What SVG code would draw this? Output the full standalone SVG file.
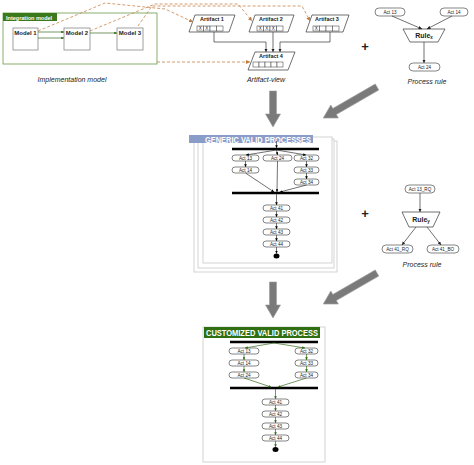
<svg xmlns="http://www.w3.org/2000/svg" width="474" height="465" viewBox="0 0 474 465">
<defs>
<style>
text{font-family:"Liberation Sans",Arial,sans-serif;fill:#222}
.mdl{fill:#fff;stroke:#888;stroke-width:0.8}
.mt{font-size:6px;font-weight:bold;text-anchor:middle}
.it{font-size:7px;font-style:italic;text-anchor:middle}
.dash{fill:none;stroke:#c8844a;stroke-width:0.8;stroke-dasharray:3,2}
.ln{fill:none;stroke:#333;stroke-width:0.7}
.gln{fill:none;stroke:#3a6b20;stroke-width:0.7}
.art{fill:#fff;stroke:#333;stroke-width:0.7}
.cell{fill:#fff;stroke:#333;stroke-width:0.5}
.at{font-size:5.5px;font-weight:bold;text-anchor:middle}
.x{font-size:4.5px;text-anchor:middle}
.act{fill:#fff;stroke:#333;stroke-width:0.6}
.ac{font-size:4.6px;text-anchor:middle}
.bar{stroke:#000;stroke-width:2.6}
.page{fill:#fff;stroke:#c8c8c8;stroke-width:0.8}
.big{fill:#7a7a7a;stroke:#9a9a9a;stroke-width:0.6}
.plus{font-size:13px;font-weight:bold;text-anchor:middle}
.hd{font-size:8.5px;font-weight:bold;fill:#fff;text-anchor:start}
</style>
<marker id="ah" viewBox="0 0 6 6" refX="6" refY="3" markerWidth="5" markerHeight="5" orient="auto"><path d="M0,0 L6,3 L0,6 z" fill="#222"/></marker>
<marker id="ahs" viewBox="0 0 6 6" refX="6" refY="3" markerWidth="4" markerHeight="4" orient="auto"><path d="M0,0 L6,3 L0,6 z" fill="#000"/></marker>
<marker id="ahg" viewBox="0 0 6 6" refX="6" refY="3" markerWidth="4" markerHeight="4" orient="auto"><path d="M0,0 L6,3 L0,6 z" fill="#2f6a14"/></marker>
<marker id="aho" viewBox="0 0 6 6" refX="6" refY="3" markerWidth="5" markerHeight="5" orient="auto"><path d="M0,0 L6,3 L0,6 z" fill="#c07a40"/></marker>
</defs>

<!-- Implementation model -->
<g id="integration-model">
<rect x="3" y="13" width="154" height="51" fill="#fff" stroke="#6a9a4a" stroke-width="0.8"/>
<rect x="3" y="13" width="54" height="8" fill="#3a7a1c"/>
<text x="6" y="19.5" style="font-size:5.5px;font-weight:bold;fill:#fff">Integration model</text>
</g>
<g id="model1"><rect class="mdl" x="13" y="28" width="25" height="22"/><text class="mt" x="25.5" y="35">Model 1</text></g>
<g id="model2"><rect class="mdl" x="64" y="28" width="26" height="22"/><text class="mt" x="77" y="35">Model 2</text></g>
<g id="model3"><rect class="mdl" x="117" y="28" width="26" height="22"/><text class="mt" x="130" y="35">Model 3</text></g>
<text class="it" x="72" y="82">Implementation model</text>

<!-- Artifacts -->
<g id="artifact1">
<polygon class="art" points="195,15 235,15 229,32 189,32"/>
<text class="at" x="212" y="21">Artifact 1</text>
<rect class="cell" x="197" y="26" width="6.5" height="5"/><rect class="cell" x="203.5" y="26" width="6.5" height="5"/><rect class="cell" x="210" y="26" width="6.5" height="5"/><rect class="cell" x="216.5" y="26" width="6.5" height="5"/>
<text class="x" x="200.2" y="30.2">X</text><text class="x" x="206.7" y="30.2">X</text>
</g>
<g id="artifact2">
<polygon class="art" points="255,15 294,15 288,32 249,32"/>
<text class="at" x="271" y="21">Artifact 2</text>
<rect class="cell" x="257" y="26" width="6.5" height="5"/><rect class="cell" x="263.5" y="26" width="6.5" height="5"/><rect class="cell" x="270" y="26" width="6.5" height="5"/><rect class="cell" x="276.5" y="26" width="6.5" height="5"/>
<text class="x" x="260.2" y="30.2">X</text><text class="x" x="266.7" y="30.2">X</text><text class="x" x="273.2" y="30.2">X</text>
</g>
<g id="artifact3">
<polygon class="art" points="312,15 349,15 343,32 306,32"/>
<text class="at" x="327" y="21">Artifact 3</text>
<rect class="cell" x="313" y="26" width="6.5" height="5"/><rect class="cell" x="319.5" y="26" width="6.5" height="5"/><rect class="cell" x="326" y="26" width="6.5" height="5"/><rect class="cell" x="332.5" y="26" width="6.5" height="5"/>
<text class="x" x="316.2" y="30.2">X</text>
</g>
<g id="artifact4">
<polygon class="art" points="255,52 295,52 288,70 248,70"/>
<text class="at" x="271" y="58">Artifact 4</text>
<rect class="cell" x="253" y="62" width="6" height="5"/><rect class="cell" x="259" y="62" width="6" height="5"/><rect class="cell" x="265" y="62" width="6" height="5"/><rect class="cell" x="271" y="62" width="6" height="5"/><rect class="cell" x="277" y="62" width="6" height="5"/>
</g>
<text class="it" x="266" y="82">Artifact-view</text>

<!-- Process rule x -->
<g id="act13-rule"><rect class="act" x="375" y="8" width="30" height="8" rx="4"/><text class="ac" x="390" y="13.8">Act 13</text></g>
<g id="act14-rule"><rect class="act" x="440" y="8" width="28" height="8" rx="4"/><text class="ac" x="454" y="13.8">Act 14</text></g>
<g id="rule-x"><polygon class="art" points="403,29 445,29 438,42 410,42"/><text x="424" y="38" style="font-size:7px;font-weight:bold;text-anchor:middle">Rule<tspan style="font-size:4.5px" dy="1">x</tspan></text></g>
<g id="act24-rule"><rect class="act" x="409" y="63" width="31" height="8" rx="4"/><text class="ac" x="424.5" y="68.8">Act 24</text></g>
<text class="it" x="427" y="84">Process rule</text>
<text class="plus" x="365" y="51">+</text>

<!-- Generic valid processes -->
<g id="generic-valid-processes">
<rect class="page" x="194" y="141" width="143" height="131"/>
<rect class="page" x="198" y="139" width="136" height="129"/>
<rect class="page" x="203" y="137" width="129" height="126"/>
<rect x="189" y="135" width="124" height="8" fill="#8a9cc8"/>
<text class="hd" x="205" y="142.5" textLength="106" lengthAdjust="spacingAndGlyphs">GENERIC VALID PROCESSES</text>
</g>
<g id="g-act13"><rect class="act" x="232" y="155" width="27" height="6" rx="3"/><text class="ac" x="245.5" y="159.6">Act 13</text></g>
<g id="g-act24"><rect class="act" x="263" y="155" width="29" height="6" rx="3"/><text class="ac" x="277.5" y="159.6">Act 24</text></g>
<g id="g-act32"><rect class="act" x="294" y="155" width="25" height="6" rx="3"/><text class="ac" x="306.5" y="159.6">Act 32</text></g>
<g id="g-act14"><rect class="act" x="232" y="167" width="27" height="6" rx="3"/><text class="ac" x="245.5" y="171.6">Act 14</text></g>
<g id="g-act33"><rect class="act" x="294" y="167" width="25" height="6" rx="3"/><text class="ac" x="306.5" y="171.6">Act 33</text></g>
<g id="g-act34"><rect class="act" x="294" y="179" width="25" height="6" rx="3"/><text class="ac" x="306.5" y="183.6">Act 34</text></g>
<g id="g-act41"><rect class="act" x="263" y="205" width="27" height="6" rx="3"/><text class="ac" x="276.5" y="209.6">Act 41</text></g>
<g id="g-act42"><rect class="act" x="263" y="217" width="27" height="6" rx="3"/><text class="ac" x="276.5" y="221.6">Act 42</text></g>
<g id="g-act43"><rect class="act" x="263" y="229" width="27" height="6" rx="3"/><text class="ac" x="276.5" y="233.6">Act 43</text></g>
<g id="g-act44"><rect class="act" x="263" y="241" width="27" height="6" rx="3"/><text class="ac" x="276.5" y="245.6">Act 44</text></g>
<g id="g-end"><ellipse cx="276.5" cy="256" rx="3" ry="2.5" fill="#000"/></g>
<g id="g-bars"><line class="bar" x1="232" y1="149" x2="319" y2="149"/><line class="bar" x1="232" y1="193" x2="319" y2="193"/></g>

<!-- Process rule y -->
<g id="act13rq"><rect class="act" x="405" y="185" width="30" height="8" rx="4"/><text class="ac" x="420" y="190.8">Act 13_RQ</text></g>
<g id="rule-y"><polygon class="art" points="402,212 440,212 433,227 409,227"/><text x="421" y="222" style="font-size:7px;font-weight:bold;text-anchor:middle">Rule<tspan style="font-size:4.5px" dy="1">y</tspan></text></g>
<g id="act41rq"><rect class="act" x="382" y="245" width="31" height="8" rx="4"/><text class="ac" x="397.5" y="250.8">Act 41_RQ</text></g>
<g id="act41bo"><rect class="act" x="427" y="245" width="32" height="8" rx="4"/><text class="ac" x="443" y="250.8">Act 41_BO</text></g>
<text class="it" x="422" y="267">Process rule</text>
<text class="plus" x="365" y="218">+</text>

<!-- Customized valid process -->
<g id="customized-valid-process">
<rect class="page" x="203" y="327" width="122" height="135"/>
<rect x="204" y="327" width="116" height="11" fill="#2f6e12"/>
<text class="hd" x="206" y="335.8" textLength="112" lengthAdjust="spacingAndGlyphs">CUSTOMIZED VALID PROCESS</text>
</g>
<g id="c-act13"><rect class="act" x="229" y="348" width="30" height="6" rx="3"/><text class="ac" x="244" y="352.6">Act 13</text></g>
<g id="c-act14"><rect class="act" x="229" y="360" width="30" height="6" rx="3"/><text class="ac" x="244" y="364.6">Act 14</text></g>
<g id="c-act24"><rect class="act" x="229" y="372" width="30" height="6" rx="3"/><text class="ac" x="244" y="376.6">Act 24</text></g>
<g id="c-act32"><rect class="act" x="295" y="348" width="23" height="6" rx="3"/><text class="ac" x="306.5" y="352.6">Act 32</text></g>
<g id="c-act33"><rect class="act" x="295" y="360" width="23" height="6" rx="3"/><text class="ac" x="306.5" y="364.6">Act 33</text></g>
<g id="c-act34"><rect class="act" x="295" y="372" width="23" height="6" rx="3"/><text class="ac" x="306.5" y="376.6">Act 34</text></g>
<g id="c-act41"><rect class="act" x="262" y="399" width="27" height="6" rx="3"/><text class="ac" x="275.5" y="403.6">Act 41</text></g>
<g id="c-act42"><rect class="act" x="262" y="411" width="27" height="6" rx="3"/><text class="ac" x="275.5" y="415.6">Act 42</text></g>
<g id="c-act43"><rect class="act" x="262" y="423" width="27" height="6" rx="3"/><text class="ac" x="275.5" y="427.6">Act 43</text></g>
<g id="c-act44"><rect class="act" x="262" y="435" width="27" height="6" rx="3"/><text class="ac" x="275.5" y="439.6">Act 44</text></g>
<g id="c-end"><ellipse cx="275.5" cy="449.5" rx="3" ry="2.5" fill="#000"/></g>
<g id="c-bars"><line class="bar" x1="230" y1="342" x2="318" y2="342"/><line class="bar" x1="230" y1="388" x2="318" y2="388"/></g>

<!-- Connectors -->
<g id="connectors">
<line class="gln" x1="38" y1="32" x2="64" y2="32" marker-end="url(#ahg)"/>
<line class="gln" x1="38" y1="38" x2="64" y2="38" marker-end="url(#ahg)"/>
<line class="gln" x1="90" y1="33" x2="117" y2="33" marker-end="url(#ahg)"/>
<polyline class="dash" points="38,31 105,3 165,9 193,22" marker-end="url(#aho)"/>
<polyline class="dash" points="90,31 155,4 238,4 252,21" marker-end="url(#aho)"/>
<polyline class="dash" points="138,26 152,6 302,6 310,21" marker-end="url(#aho)"/>
<polyline class="dash" points="157,62 250,62" marker-end="url(#aho)"/>
<polyline class="ln" points="214,32 214,42 266,42 266,52" marker-end="url(#ah)"/>
<line class="ln" x1="273" y1="32" x2="273" y2="52" marker-end="url(#ah)"/>
<polyline class="ln" points="330,32 330,42 280,42 280,52" marker-end="url(#ah)"/>
<line class="ln" x1="392" y1="16" x2="422" y2="29" marker-end="url(#ah)"/>
<line class="ln" x1="452" y1="16" x2="427" y2="29" marker-end="url(#ah)"/>
<line class="ln" x1="424" y1="42" x2="424" y2="63" marker-end="url(#ah)"/>
<line class="ln" x1="420" y1="193" x2="420" y2="212" marker-end="url(#ah)"/>
<line class="ln" x1="416" y1="227" x2="402" y2="245" marker-end="url(#ah)"/>
<line class="ln" x1="427" y1="227" x2="441" y2="245" marker-end="url(#ah)"/>
<!-- generic -->
<line class="ln" x1="276.5" y1="141" x2="276.5" y2="148" marker-end="url(#ahs)"/>
<line class="ln" x1="276.5" y1="150" x2="246" y2="155" marker-end="url(#ahs)"/>
<line class="ln" x1="276.5" y1="150" x2="277.5" y2="155" marker-end="url(#ahs)"/>
<line class="ln" x1="276.5" y1="150" x2="306" y2="155" marker-end="url(#ahs)"/>
<line class="ln" x1="245.5" y1="161" x2="245.5" y2="167" marker-end="url(#ahs)"/>
<line class="ln" x1="306.5" y1="161" x2="306.5" y2="167" marker-end="url(#ahs)"/>
<line class="ln" x1="306.5" y1="173" x2="306.5" y2="179" marker-end="url(#ahs)"/>
<line class="ln" x1="245.5" y1="173" x2="274" y2="192" marker-end="url(#ahs)"/>
<line class="ln" x1="277.5" y1="161" x2="277" y2="192" marker-end="url(#ahs)"/>
<line class="ln" x1="306.5" y1="185" x2="280" y2="192" marker-end="url(#ahs)"/>
<line class="ln" x1="276.5" y1="194" x2="276.5" y2="205" marker-end="url(#ahs)"/>
<line class="ln" x1="276.5" y1="211" x2="276.5" y2="217" marker-end="url(#ahs)"/>
<line class="ln" x1="276.5" y1="223" x2="276.5" y2="229" marker-end="url(#ahs)"/>
<line class="ln" x1="276.5" y1="235" x2="276.5" y2="241" marker-end="url(#ahs)"/>
<line class="ln" x1="276.5" y1="247" x2="276.5" y2="253.5" marker-end="url(#ahs)"/>
<!-- customized -->
<line class="gln" x1="274" y1="343" x2="245" y2="348" marker-end="url(#ahg)"/>
<line class="gln" x1="274" y1="343" x2="305" y2="348" marker-end="url(#ahg)"/>
<line class="gln" x1="244" y1="354" x2="244" y2="360" marker-end="url(#ahg)"/>
<line class="gln" x1="244" y1="366" x2="244" y2="372" marker-end="url(#ahg)"/>
<line class="gln" x1="306.5" y1="354" x2="306.5" y2="360" marker-end="url(#ahg)"/>
<line class="gln" x1="306.5" y1="366" x2="306.5" y2="372" marker-end="url(#ahg)"/>
<line class="gln" x1="244" y1="378" x2="271" y2="387" marker-end="url(#ahg)"/>
<line class="gln" x1="306.5" y1="378" x2="278" y2="387" marker-end="url(#ahg)"/>
<line class="gln" x1="275.5" y1="389" x2="275.5" y2="399" marker-end="url(#ahg)"/>
<line class="gln" x1="275.5" y1="405" x2="275.5" y2="411" marker-end="url(#ahg)"/>
<line class="gln" x1="275.5" y1="417" x2="275.5" y2="423" marker-end="url(#ahg)"/>
<line class="gln" x1="275.5" y1="429" x2="275.5" y2="435" marker-end="url(#ahg)"/>
<line class="gln" x1="275.5" y1="441" x2="275.5" y2="447" marker-end="url(#ahg)"/>
<!-- big arrows -->
<polygon class="big" points="269.5,91 276.5,91 276.5,114 280.5,114 273,127 265.5,114 269.5,114"/>
<polygon class="big" points="269.5,282 276.5,282 276.5,305 280.5,305 273,318 265.5,305 269.5,305"/>
<polygon class="big" transform="rotate(60 377 87)" points="373.5,87 380.5,87 380.5,136 384.5,136 377,149 369.5,136 373.5,136"/>
<polygon class="big" transform="rotate(60 377 273)" points="373.5,273 380.5,273 380.5,322 384.5,322 377,335 369.5,322 373.5,322"/>
</g>
</svg>
